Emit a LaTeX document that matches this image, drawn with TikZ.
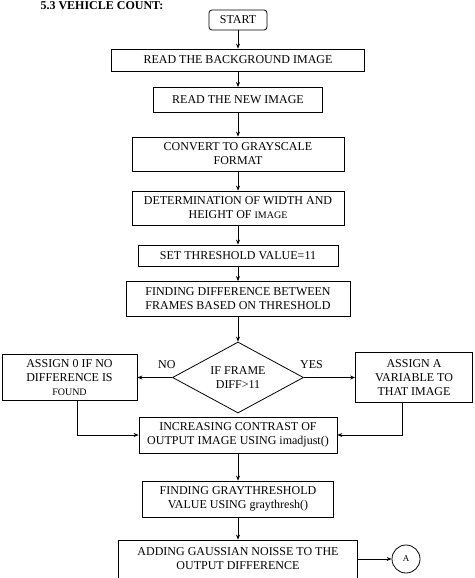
\documentclass[tikz,border=0pt]{standalone}
\usepackage{fontspec}
\setmainfont{Liberation Serif}
\usetikzlibrary{shapes.geometric, positioning, arrows.meta}
\tikzset{
  startstop/.style={rectangle, rounded corners=3pt, minimum width=58pt, minimum height=20pt, text centered, draw=black, line width=0.8pt},
  process/.style={rectangle, minimum height=22pt, text centered, align=center, draw=black, line width=0.8pt, inner sep=1pt},
  decision/.style={diamond, aspect=1.85, minimum width=131pt, minimum height=71pt, inner sep=0pt, align=center, draw=black, line width=0.8pt},
  connector/.style={circle, minimum size=28pt, inner sep=0pt, draw=black, line width=0.8pt, font=\fontsize{9}{10}\selectfont},
  arrow/.style={line width=0.7pt, ->, >={Stealth[length=5pt,width=4pt]}}
}
\newcommand{\smallcap}[1]{{\fontsize{10}{14}\selectfont #1}}

\begin{document}
\begin{tikzpicture}[x=1pt, y=1pt, node distance=40pt, every node/.style={font=\fontsize{12}{14}\selectfont}]
  \useasboundingbox (0,0) rectangle (474,-578);
  \node (title) [anchor=base west, font=\fontsize{12}{14}\selectfont\bfseries] at (37,-9.5) {5.3 VEHICLE COUNT:};
  \node (start) [startstop] at (238,-20) {START};
  \node (readbg) [process, below of=start, minimum width=253pt] {READ THE BACKGROUND IMAGE};
  \node (readnew) [process, below of=readbg, minimum width=169pt, minimum height=25pt] {READ THE NEW IMAGE};
  \node (gray) [process, below of=readnew, yshift=-14pt, minimum width=212pt, minimum height=34pt] {CONVERT TO GRAYSCALE\\FORMAT};
  \node (size) [process, below of=gray, yshift=-14pt, minimum width=212pt, minimum height=34pt] {DETERMINATION OF WIDTH AND\\HEIGHT OF \smallcap{IMAGE}};
  \node (thresh) [process, below of=size, yshift=-7.5pt, minimum width=200pt, minimum height=21pt] {SET THRESHOLD VALUE=11};
  \node (diff) [process, below of=thresh, yshift=-3.5pt, minimum width=224pt, minimum height=35pt] {FINDING DIFFERENCE BETWEEN\\FRAMES BASED ON THRESHOLD};
  \node (check) [decision, below of=diff, yshift=-38.5pt] {IF FRAME\\DIFF>11};

  % branches on both sides of the decision
  \node (zero) [process, left of=check, xshift=-128.5pt, minimum width=135pt, minimum height=46pt] {ASSIGN 0 IF NO\\DIFFERENCE IS\\\smallcap{FOUND}};
  \node (assign) [process, right of=check, xshift=136pt, minimum width=117pt, minimum height=50pt] {ASSIGN A\\VARIABLE TO\\THAT IMAGE};

  \node (contrast) [process, below of=check, yshift=-17.5pt, minimum width=198pt, minimum height=36pt] {INCREASING CONTRAST OF\\OUTPUT IMAGE USING imadjust()};
  \node (otsu) [process, below of=contrast, yshift=-24pt, minimum width=191pt, minimum height=36pt] {FINDING GRAYTHRESHOLD\\VALUE USING graythresh()};
  \node (noise) [process, below of=otsu, yshift=-20pt, minimum width=239pt, minimum height=38pt] {ADDING GAUSSIAN NOISSE TO THE\\OUTPUT DIFFERENCE};
  \node (conA) [connector, right of=noise, xshift=128pt] {A};

  \draw [arrow] (start) -- (readbg);
  \draw [arrow] (readbg) -- (readnew);
  \draw [arrow] (readnew) -- (gray);
  \draw [arrow] (gray) -- (size);
  \draw [arrow] (size) -- (thresh);
  \draw [arrow] (thresh) -- (diff);
  \draw [arrow] (diff) -- (check);
  \draw [arrow] (check.west) -- node[anchor=south, pos=0.15, yshift=5pt] {NO} (zero.east);
  \draw [arrow] (check.east) -- node[anchor=south, pos=0.15, yshift=5pt] {YES} (assign.west);
  \draw [arrow] ([xshift=8pt]zero.south) |- (contrast.west);
  \draw [arrow] ([xshift=-11.5pt]assign.south) |- (contrast.east);
  \draw [arrow] (contrast) -- (otsu);
  \draw [arrow] (otsu) -- (noise);
  \draw [arrow] (noise) -- (conA);
\end{tikzpicture}
\end{document}
